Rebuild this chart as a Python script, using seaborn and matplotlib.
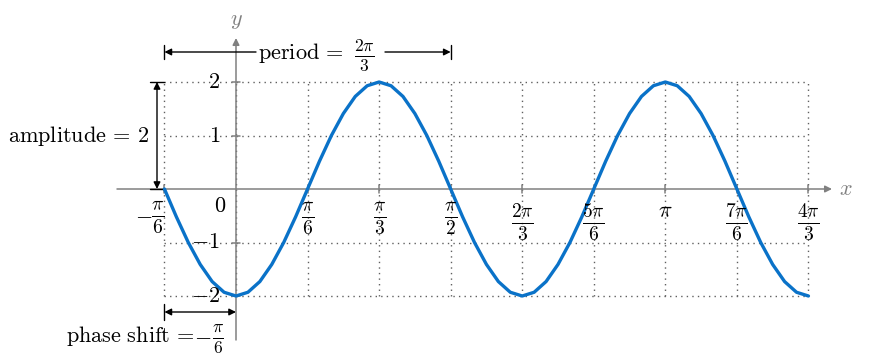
import numpy as np
import pandas as pd
import matplotlib
matplotlib.use("Agg")
import matplotlib.pyplot as plt
import seaborn as sns

PI = np.pi

# Sample positions of the curve, in steps of pi/36 from -pi/6 to 4pi/3
x_steps = [-6, -5, -4, -3, -2, -1, 0, 1, 2, 3, 4, 5, 6, 7, 8, 9, 10, 11,
           12, 13, 14, 15, 16, 17, 18, 19, 20, 21, 22, 23, 24, 25, 26, 27,
           28, 29, 30, 31, 32, 33, 34, 35, 36, 37, 38, 39, 40, 41, 42, 43,
           44, 45, 46, 47, 48]
# Curve values
y_values = [0.0, -0.52, -1.0, -1.41, -1.73, -1.93, -2.0, -1.93, -1.73, -1.41,
            -1.0, -0.52, 0.0, 0.52, 1.0, 1.41, 1.73, 1.93, 2.0, 1.93, 1.73,
            1.41, 1.0, 0.52, 0.0, -0.52, -1.0, -1.41, -1.73, -1.93, -2.0,
            -1.93, -1.73, -1.41, -1.0, -0.52, 0.0, 0.52, 1.0, 1.41, 1.73,
            1.93, 2.0, 1.93, 1.73, 1.41, 1.0, 0.52, 0.0, -0.52, -1.0, -1.41,
            -1.73, -1.93, -2.0]

# Tick positions (multiples of pi/6) and labels
x_tick_sixths = [1, 2, 3, 4, 5, 7, 8]
x_tick_labels = [r"$\frac{\pi}{6}$", r"$\frac{\pi}{3}$", r"$\frac{\pi}{2}$",
                 r"$\frac{2\pi}{3}$", r"$\frac{5\pi}{6}$",
                 r"$\frac{7\pi}{6}$", r"$\frac{4\pi}{3}$"]
y_ticks = [-2, -1, 1, 2]
y_tick_labels = [r"$-2$", r"$-1$", r"$1$", r"$2$"]

df = pd.DataFrame({"x": [k * PI / 36 for k in x_steps], "y": y_values})

sns.set_theme(style="white")
plt.rcParams["mathtext.fontset"] = "cm"
plt.rcParams["font.family"] = ["DejaVu Serif"]
plt.rcParams["text.color"] = "black"

FS = 16     # normal text
FS_FR = 20  # stacked fractions

# pixel scale of the reference: 136.66 px per radian, 53.5 px per unit
PX_X = 136.66
PX_Y = 53.5
W, H = 870, 361
OX, OY = 236, 189  # pixel position of the origin

fig = plt.figure(figsize=(W / 100, H / 100), dpi=100)
ax = fig.add_axes([0, 0, 1, 1])
ax.set_xlim(-OX / PX_X, (W - OX) / PX_X)
ax.set_ylim(-(H - OY) / PX_Y, OY / PX_Y)
ax.axis("off")


def X(p):
    # pixel column of the reference -> data x
    return (p - OX) / PX_X


def Y(p):
    # pixel row of the reference -> data y
    return (OY - p) / PX_Y


grid_kw = dict(color="#606060", lw=1.0, linestyle=(0, (1, 3)), zorder=1)
xmin, xmax = -PI / 6, 4 * PI / 3
x_grid = [k * PI / 6 for k in range(-1, 9)]
ax.vlines(x_grid, -2, 2, **grid_kw)
ax.hlines([-2, -1, 1, 2], xmin, xmax, **grid_kw)

# axes with arrows
axis_col = "#808080"
ax.annotate("", xy=(X(832), 0), xytext=(X(117), 0),
            arrowprops=dict(arrowstyle="-|>", color=axis_col, lw=1.1,
                            shrinkA=0, shrinkB=0, mutation_scale=10), zorder=2)
ax.annotate("", xy=(0, Y(38)), xytext=(0, Y(340)),
            arrowprops=dict(arrowstyle="-|>", color=axis_col, lw=1.1,
                            shrinkA=0, shrinkB=0, mutation_scale=10), zorder=2)
for xv in x_grid:
    if xv != 0:
        ax.plot([xv, xv], [Y(OY + 4), Y(OY - 4)], color=axis_col, lw=1.1, zorder=2)
for yv in y_ticks:
    ax.plot([X(OX - 4), X(OX + 4)], [yv, yv], color=axis_col, lw=1.1, zorder=2)

ax.text(0, Y(20), r"$y$", color=axis_col, ha="center", va="center", fontsize=FS)
ax.text(X(846), 0, r"$x$", color=axis_col, ha="center", va="center", fontsize=FS)

# the curve
sns.lineplot(data=df, x="x", y="y", ax=ax, color="#0a72c8", lw=2.4,
             zorder=3, legend=False)

# tick labels
for k, lab in zip(x_tick_sixths, x_tick_labels):
    ax.text(k * PI / 6, Y(201), lab, ha="center", va="top", fontsize=FS_FR)
ax.text(PI, Y(211), r"$\pi$", ha="center", va="center", fontsize=FS)
ax.text(X(158), Y(200), r"$\frac{\pi}{6}$", ha="center", va="top", fontsize=FS_FR)
ax.text(X(144), Y(215), r"$-$", ha="center", va="center", fontsize=FS)
for yv, lab in zip(y_ticks, y_tick_labels):
    ax.text(X(220), yv, lab, ha="right", va="center", fontsize=FS)
ax.text(X(220), Y(206), r"$0$", ha="center", va="center", fontsize=FS)

# period annotation
yp = Y(52)
arr = dict(arrowstyle="-|>", color="black", lw=1.0, shrinkA=0, shrinkB=0,
           mutation_scale=10)
ax.annotate("", xy=(xmin, yp), xytext=(X(256), yp), arrowprops=arr)
ax.annotate("", xy=(PI / 2, yp), xytext=(X(385), yp), arrowprops=arr)
ax.plot([xmin, xmin], [Y(45), Y(59)], color="black", lw=1.0)
ax.plot([PI / 2, PI / 2], [Y(45), Y(59)], color="black", lw=1.0)
ax.text(X(344), Y(53), r"$\mathrm{period}\,=$", ha="right", va="center",
        fontsize=FS)
ax.text(X(364), Y(37), r"$\frac{2\pi}{3}$", ha="center", va="top", fontsize=FS_FR - 2)

# amplitude annotation
xa = X(157)
ax.annotate("", xy=(xa, 2), xytext=(xa, 0),
            arrowprops=dict(arrowstyle="<|-|>", color="black", lw=1.0,
                            shrinkA=0, shrinkB=0, mutation_scale=10))
ax.plot([X(150), xmin], [2, 2], color="black", lw=1.0)
ax.plot([X(150), xmin], [0, 0], color="black", lw=1.0)
ax.text(X(149), 1, r"$\mathrm{amplitude}\,=\,2$", ha="right", va="center",
        fontsize=FS)

# phase shift annotation
yps = Y(312)
ax.annotate("", xy=(xmin, yps), xytext=(0, yps),
            arrowprops=dict(arrowstyle="<|-|>", color="black", lw=1.0,
                            shrinkA=0, shrinkB=0, mutation_scale=10))
ax.plot([xmin, xmin], [Y(304), Y(320)], color="black", lw=1.0)
ax.text(X(195), Y(336), r"$\mathrm{phase\ shift}\,=$", ha="right",
        va="center", fontsize=FS)
ax.text(X(202.5), Y(336), r"$-$", ha="center", va="center", fontsize=FS)
ax.text(X(218), Y(323), r"$\frac{\pi}{6}$", ha="center", va="top", fontsize=FS_FR - 2)

fig.savefig("out.png", dpi=100)
